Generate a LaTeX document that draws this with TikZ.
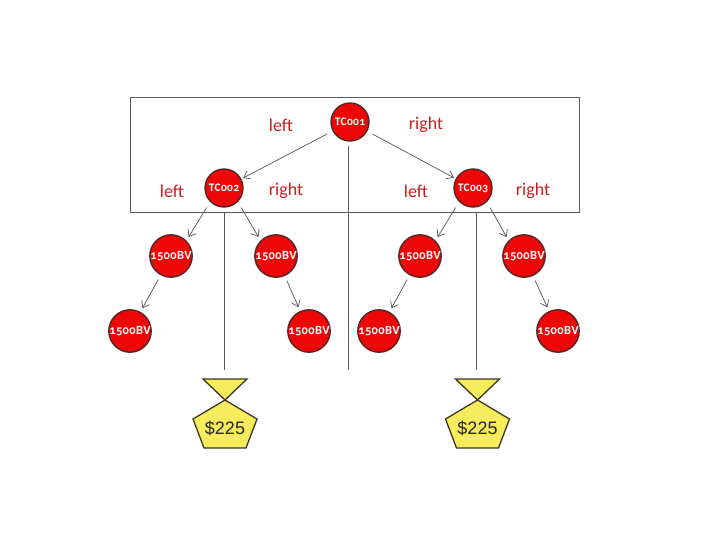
\documentclass[tikz,border=0pt]{standalone}
\usepackage{fontspec}
\setmainfont{Carlito}
\newfontfamily\numfont[Numbers=OldStyle,LetterSpace=3]{Carlito}
\newfontfamily\arialfont{Liberation Sans}
\usetikzlibrary{arrows.meta}
\definecolor{ballred}{RGB}{238,6,6}
\definecolor{ballline}{RGB}{85,40,40}
\definecolor{labred}{RGB}{200,30,30}
\definecolor{conn}{RGB}{90,90,90}
\definecolor{payfill}{RGB}{246,236,92}
\definecolor{payline}{RGB}{60,55,35}
\begin{document}
\begin{tikzpicture}[x=1pt,y=-1pt,
  ball/.style={circle,fill=ballred,draw=ballline,line width=1.4pt,inner sep=0pt,
    text=white,font=\numfont\bfseries},
  tcball/.style={ball,minimum size=38pt,font=\numfont\bfseries\fontsize{11.5}{12}\selectfont},
  bvball/.style={ball,minimum size=42pt,font=\numfont\bfseries\fontsize{12.5}{13}\selectfont},
  lab/.style={text=labred,font=\fontsize{18}{20}\selectfont,inner sep=0pt},
  arr/.style={draw=conn,line width=0.75pt,-{Straight Barb[length=6pt,width=9pt]}},
  vline/.style={draw=conn,line width=0.85pt},
  pay/.style={fill=payfill,draw=payline,line width=1.3pt,line join=miter},
  frame/.style={draw=conn,line width=0.85pt,inner sep=0pt}
]
\useasboundingbox (0,0) rectangle (728,546);

% frame
\node[frame,minimum width=449pt,minimum height=115pt,anchor=north west] (box) at (130,97) {};

% top level
\node[tcball] (t1) at (350,122) {TC001};
\node[tcball] (t2) at (224,188) {TC002};
\node[tcball] (t3) at (473,188) {TC003};

% labels
\node[lab] (l1) at (281,125) {left};
\node[lab] (r1) at (426,125) {right};
\node[lab] (l2) at (172,191) {left};
\node[lab] (r2) at (286,191) {right};
\node[lab] (l3) at (416,191) {left};
\node[lab] (r3) at (533,191) {right};

% second level
\node[bvball] (b1) at (171,256) {1500BV};
\node[bvball] (b2) at (276,256) {1500BV};
\node[bvball] (b3) at (420,256) {1500BV};
\node[bvball] (b4) at (524,256) {1500BV};

% third level
\node[bvball] (c1) at (130,331) {1500BV};
\node[bvball] (c2) at (309,331) {1500BV};
\node[bvball] (c3) at (379,331) {1500BV};
\node[bvball] (c4) at (558,331) {1500BV};

% arrows
\draw[arr,shorten <=6pt,shorten >=2pt] (t1) -- (t2);
\draw[arr,shorten <=6pt,shorten >=2pt] (t1) -- (t3);
\draw[arr,shorten <=6.5pt,shorten >=4pt] (t2.south west) -- (b1.north east);
\draw[arr,shorten <=6.5pt,shorten >=4pt] (t2.south east) -- (b2.north west);
\draw[arr,shorten <=6.5pt,shorten >=4pt] (t3.south west) -- (b3.north east);
\draw[arr,shorten <=6.5pt,shorten >=4pt] (t3.south east) -- (b4.north west);
\draw[arr,shorten <=5pt,shorten >=4pt] (b1) -- (c1);
\draw[arr,shorten <=5pt,shorten >=4pt] (b2) -- (c2);
\draw[arr,shorten <=5pt,shorten >=4pt] (b3) -- (c3);
\draw[arr,shorten <=5pt,shorten >=4pt] (b4) -- (c4);

% vertical lines
\coordinate (e1) at (348,370);
\coordinate (s1) at (348,146);
\coordinate (e2) at (224.5,370);
\coordinate (s2) at (224.5,212);
\coordinate (e3) at (476.5,370);
\coordinate (s3) at (476.5,212);
\draw[vline] (s1) -- (e1);
\draw[vline] (s2) -- (e2);
\draw[vline] (s3) -- (e3);

% payoff hourglasses
\coordinate (h1) at (225,400);
\coordinate (h2) at (477.5,400);
\foreach \h in {h1,h2}{
  \draw[pay] (\h) ++(-22,-21) -- ++(44,0) -- (\h) -- cycle;
  \draw[pay] (\h) -- ++(32,19) -- ++(-11,29) -- ++(-42,0) -- ++(-11,-29) -- cycle;
}
\node[font=\arialfont\fontsize{18}{20}\selectfont,text=black!85,inner sep=0pt] (m1) at (225,428) {\$225};
\node[font=\arialfont\fontsize{18}{20}\selectfont,text=black!85,inner sep=0pt] (m2) at (477.5,428) {\$225};
\end{tikzpicture}
\end{document}
